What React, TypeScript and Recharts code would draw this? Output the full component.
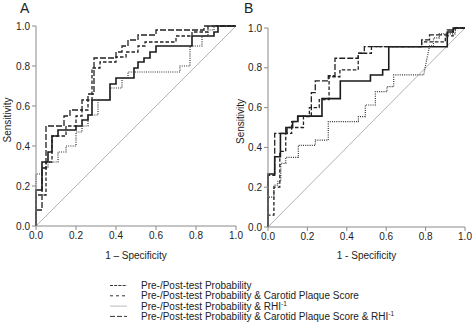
import React from 'react';
import { LineChart, Line, XAxis, YAxis } from 'recharts';

const axisTicks = [0, 0.2, 0.4, 0.6, 0.8, 1.0];
const diagFpr = [0, 1];
const diagSens = [0, 1];

// Panel A
const aBaseFpr = [0, 0, 0.03, 0.03, 0.06, 0.06, 0.08, 0.08, 0.11, 0.11, 0.2, 0.2, 0.23, 0.23, 0.26, 0.26, 0.28, 0.28, 0.37, 0.37, 0.4, 0.4, 0.49, 0.49, 0.51, 0.51, 0.54, 0.54, 0.57, 0.57, 0.6, 0.6, 0.78, 0.78, 0.89, 0.89, 0.91, 0.91, 1];
const aBaseSens = [0, 0.18, 0.18, 0.32, 0.32, 0.37, 0.37, 0.45, 0.45, 0.48, 0.48, 0.5, 0.5, 0.53, 0.53, 0.555, 0.555, 0.63, 0.63, 0.71, 0.71, 0.74, 0.74, 0.79, 0.79, 0.82, 0.82, 0.84, 0.84, 0.87, 0.87, 0.9, 0.9, 0.95, 0.95, 0.97, 0.97, 1, 1];

const aCpsFpr = [0, 0, 0.05, 0.05, 0.08, 0.08, 0.15, 0.15, 0.2, 0.2, 0.23, 0.23, 0.26, 0.26, 0.28, 0.28, 0.32, 0.32, 0.4, 0.4, 0.45, 0.45, 0.51, 0.51, 0.545, 0.545, 0.7, 0.7, 0.78, 0.78, 0.86, 0.86, 1];
const aCpsSens = [0, 0.155, 0.155, 0.32, 0.32, 0.45, 0.45, 0.5, 0.5, 0.55, 0.55, 0.58, 0.58, 0.63, 0.63, 0.79, 0.79, 0.82, 0.82, 0.845, 0.845, 0.87, 0.87, 0.9, 0.9, 0.92, 0.92, 0.95, 0.95, 0.97, 0.97, 1, 1];

const aRhiFpr = [0, 0, 0.03, 0.03, 0.06, 0.06, 0.11, 0.11, 0.15, 0.15, 0.2, 0.2, 0.23, 0.23, 0.26, 0.26, 0.31, 0.31, 0.37, 0.37, 0.43, 0.43, 0.46, 0.46, 0.72, 0.72, 0.77, 0.77, 0.83, 0.83, 0.86, 0.86, 0.89, 0.89, 1];
const aRhiSens = [0, 0.26, 0.26, 0.29, 0.29, 0.32, 0.32, 0.37, 0.37, 0.4, 0.4, 0.47, 0.47, 0.5, 0.5, 0.555, 0.555, 0.63, 0.63, 0.69, 0.69, 0.74, 0.74, 0.77, 0.77, 0.8, 0.8, 0.9, 0.9, 0.95, 0.95, 0.98, 0.98, 1, 1];

const aBothFpr = [0, 0, 0.03, 0.03, 0.05, 0.05, 0.14, 0.14, 0.17, 0.17, 0.23, 0.23, 0.26, 0.26, 0.29, 0.29, 0.4, 0.4, 0.43, 0.43, 0.46, 0.46, 0.51, 0.51, 0.6, 0.6, 0.84, 0.84, 1];
const aBothSens = [0, 0.08, 0.08, 0.29, 0.29, 0.5, 0.5, 0.55, 0.55, 0.58, 0.58, 0.63, 0.63, 0.66, 0.66, 0.84, 0.84, 0.87, 0.87, 0.9, 0.9, 0.93, 0.93, 0.955, 0.955, 0.98, 0.98, 1, 1];

// Panel B
const bBaseFpr = [0, 0, 0.034, 0.034, 0.063, 0.063, 0.096, 0.096, 0.125, 0.125, 0.152, 0.152, 0.274, 0.274, 0.367, 0.367, 0.52, 0.52, 0.582, 0.582, 0.613, 0.613, 0.91, 0.91, 0.94, 0.94, 1];
const bBaseSens = [0, 0.266, 0.266, 0.353, 0.353, 0.47, 0.47, 0.5, 0.5, 0.53, 0.53, 0.557, 0.557, 0.645, 0.645, 0.734, 0.734, 0.764, 0.764, 0.79, 0.79, 0.906, 0.906, 0.98, 0.98, 1, 1];

const bCpsFpr = [0, 0, 0.03, 0.03, 0.06, 0.06, 0.09, 0.09, 0.12, 0.12, 0.18, 0.18, 0.21, 0.21, 0.26, 0.26, 0.31, 0.31, 0.365, 0.365, 0.458, 0.458, 0.525, 0.525, 0.78, 0.78, 0.9, 0.9, 0.94, 0.94, 1];
const bCpsSens = [0, 0.06, 0.06, 0.2, 0.2, 0.38, 0.38, 0.47, 0.47, 0.5, 0.5, 0.555, 0.555, 0.6, 0.6, 0.64, 0.64, 0.755, 0.755, 0.79, 0.79, 0.873, 0.873, 0.906, 0.906, 0.93, 0.93, 0.96, 0.96, 1, 1];

const bRhiFpr = [0, 0, 0.03, 0.03, 0.05, 0.05, 0.065, 0.065, 0.09, 0.09, 0.154, 0.154, 0.24, 0.24, 0.306, 0.306, 0.459, 0.459, 0.494, 0.494, 0.545, 0.545, 0.604, 0.604, 0.638, 0.638, 0.79, 0.82, 0.84, 0.84, 0.87, 0.87, 0.95, 0.95, 1];
const bRhiSens = [0, 0.15, 0.15, 0.21, 0.21, 0.23, 0.23, 0.32, 0.32, 0.35, 0.35, 0.41, 0.41, 0.437, 0.437, 0.53, 0.53, 0.555, 0.555, 0.613, 0.613, 0.68, 0.68, 0.705, 0.705, 0.764, 0.764, 0.91, 0.91, 0.95, 0.95, 0.97, 0.97, 1, 1];

const bBothFpr = [0, 0, 0.034, 0.034, 0.09, 0.09, 0.12, 0.12, 0.15, 0.15, 0.22, 0.22, 0.24, 0.24, 0.306, 0.306, 0.34, 0.34, 0.458, 0.458, 0.489, 0.489, 0.78, 0.78, 0.82, 0.82, 0.91, 0.91, 0.95, 0.95, 1];
const bBothSens = [0, 0.26, 0.26, 0.47, 0.47, 0.5, 0.5, 0.53, 0.53, 0.557, 0.557, 0.675, 0.675, 0.734, 0.734, 0.76, 0.76, 0.848, 0.848, 0.873, 0.873, 0.906, 0.906, 0.94, 0.94, 0.965, 0.965, 0.99, 0.99, 1, 1];

const legendLabels = [
  'Pre-/Post-test Probability',
  'Pre-/Post-test Probability & Carotid Plaque Score',
  'Pre-/Post-test Probability & RHI',
  'Pre-/Post-test Probability & Carotid Plaque Score & RHI',
];
const legendSup = ['', '', '-1', '-1'];
const legendDash = ['3 1.2', '3 3', '', '5 2'];
const legendColor = ['#333', '#333', '#bbb', '#333'];

const pts = (f: number[], s: number[]) => f.map((x, i) => ({ f: x, s: s[i] }));

const FONT = '"Liberation Sans", Arial, sans-serif';
const AXIS = '#8a8a8a';

function YTitle(props: any) {
  const vb = props.viewBox || { x: 0, y: 0, height: 0 };
  const x = vb.x + props.cx;
  const y = vb.y + vb.height / 2 + props.dyc;
  return (
    <text x={x} y={y} transform={`rotate(-90 ${x} ${y})`} textAnchor="middle" dominantBaseline="central" fontSize={10} fill="#222" fontFamily={FONT}>
      Sensitivity
    </text>
  );
}

type PanelProps = {
  series: { f: number[]; s: number[] }[];
  width: number;
  height: number;
  margin: any;
  yAxisWidth: number;
  xAxisHeight: number;
  xTitle: string;
  yTitleX: number;
};

const styles = [
  { stroke: '#1a1a1a', width: 1.6, dash: undefined },
  { stroke: '#222', width: 1.3, dash: '3.5 2' },
  { stroke: '#333', width: 1.2, dash: '1 1.2' },
  { stroke: '#222', width: 1.3, dash: '6 2' },
];

function Panel({ series, width, height, margin, yAxisWidth, xAxisHeight, xTitle, yTitleX }: PanelProps) {
  return (
    <LineChart width={width} height={height} margin={margin}>
      <XAxis
        type="number"
        dataKey="f"
        domain={[0, 1]}
        ticks={axisTicks}
        interval={0}
        tickFormatter={(v: number) => v.toFixed(1)}
        tick={{ fontSize: 10, fill: '#222' }}
        tickSize={4}
        tickMargin={2}
        axisLine={{ stroke: AXIS }}
        tickLine={{ stroke: AXIS }}
        height={xAxisHeight}
        label={{ value: xTitle, position: 'insideBottom', offset: 11, fontSize: 10, fill: '#222' }}
      />
      <YAxis
        type="number"
        dataKey="s"
        domain={[0, 1]}
        ticks={axisTicks}
        interval={0}
        tickFormatter={(v: number) => v.toFixed(1)}
        tick={{ fontSize: 10, fill: '#222' }}
        tickSize={4}
        tickMargin={2}
        axisLine={{ stroke: AXIS }}
        tickLine={{ stroke: AXIS }}
        width={yAxisWidth}
        label={<YTitle cx={yTitleX} dyc={-6} />}
      />
      <Line data={pts(diagFpr, diagSens)} dataKey="s" type="linear" stroke="#a0a0a0" strokeWidth={0.8} dot={false} isAnimationActive={false} />
      {series.map((sr, i) => (
        <Line
          key={i}
          data={pts(sr.f, sr.s)}
          dataKey="s"
          type="linear"
          stroke={styles[i].stroke}
          strokeWidth={styles[i].width}
          strokeDasharray={styles[i].dash}
          dot={false}
          isAnimationActive={false}
        />
      ))}
    </LineChart>
  );
}

export default function App() {
  const seriesA = [
    { f: aBaseFpr, s: aBaseSens },
    { f: aCpsFpr, s: aCpsSens },
    { f: aRhiFpr, s: aRhiSens },
    { f: aBothFpr, s: aBothSens },
  ];
  const seriesB = [
    { f: bBaseFpr, s: bBaseSens },
    { f: bCpsFpr, s: bCpsSens },
    { f: bRhiFpr, s: bRhiSens },
    { f: bBothFpr, s: bBothSens },
  ];
  return (
    <div style={{ position: 'absolute', left: 0, top: 0, width: 474, height: 327, background: '#fff', fontFamily: FONT, overflow: 'hidden' }}>
      <div style={{ position: 'absolute', left: 0, top: 0 }}>
        <Panel series={seriesA} width={250} height={270} margin={{ top: 26, right: 14, bottom: 0, left: 0 }} yAxisWidth={36} xAxisHeight={44} xTitle="1 – Specificity" yTitleX={7} />
      </div>
      <div style={{ position: 'absolute', left: 236, top: 0 }}>
        <Panel series={seriesB} width={238} height={270} margin={{ top: 28, right: 9, bottom: 0, left: 0 }} yAxisWidth={32} xAxisHeight={43} xTitle="1 - Specificity" yTitleX={4} />
      </div>
      <div style={{ position: 'absolute', left: 20, top: 0, fontSize: 14, lineHeight: '16px', color: '#222' }}>A</div>
      <div style={{ position: 'absolute', left: 244, top: 0, fontSize: 14, lineHeight: '16px', color: '#222' }}>B</div>
      <svg style={{ position: 'absolute', left: 0, top: 272 }} width={474} height={55}>
        {legendLabels.map((lab, i) => {
          const y = 13.5 + i * 10.3;
          return (
            <g key={i}>
              <line x1={110} x2={127} y1={y} y2={y} stroke={legendColor[i]} strokeWidth={1} strokeDasharray={legendDash[i] || undefined} />
              <text x={141} y={y + 3.5} fontSize={10} fill="#222" fontFamily={FONT}>
                {lab}
                {legendSup[i] ? <tspan fontSize={6.5} dy={-4}>{legendSup[i]}</tspan> : null}
              </text>
            </g>
          );
        })}
      </svg>
    </div>
  );
}
